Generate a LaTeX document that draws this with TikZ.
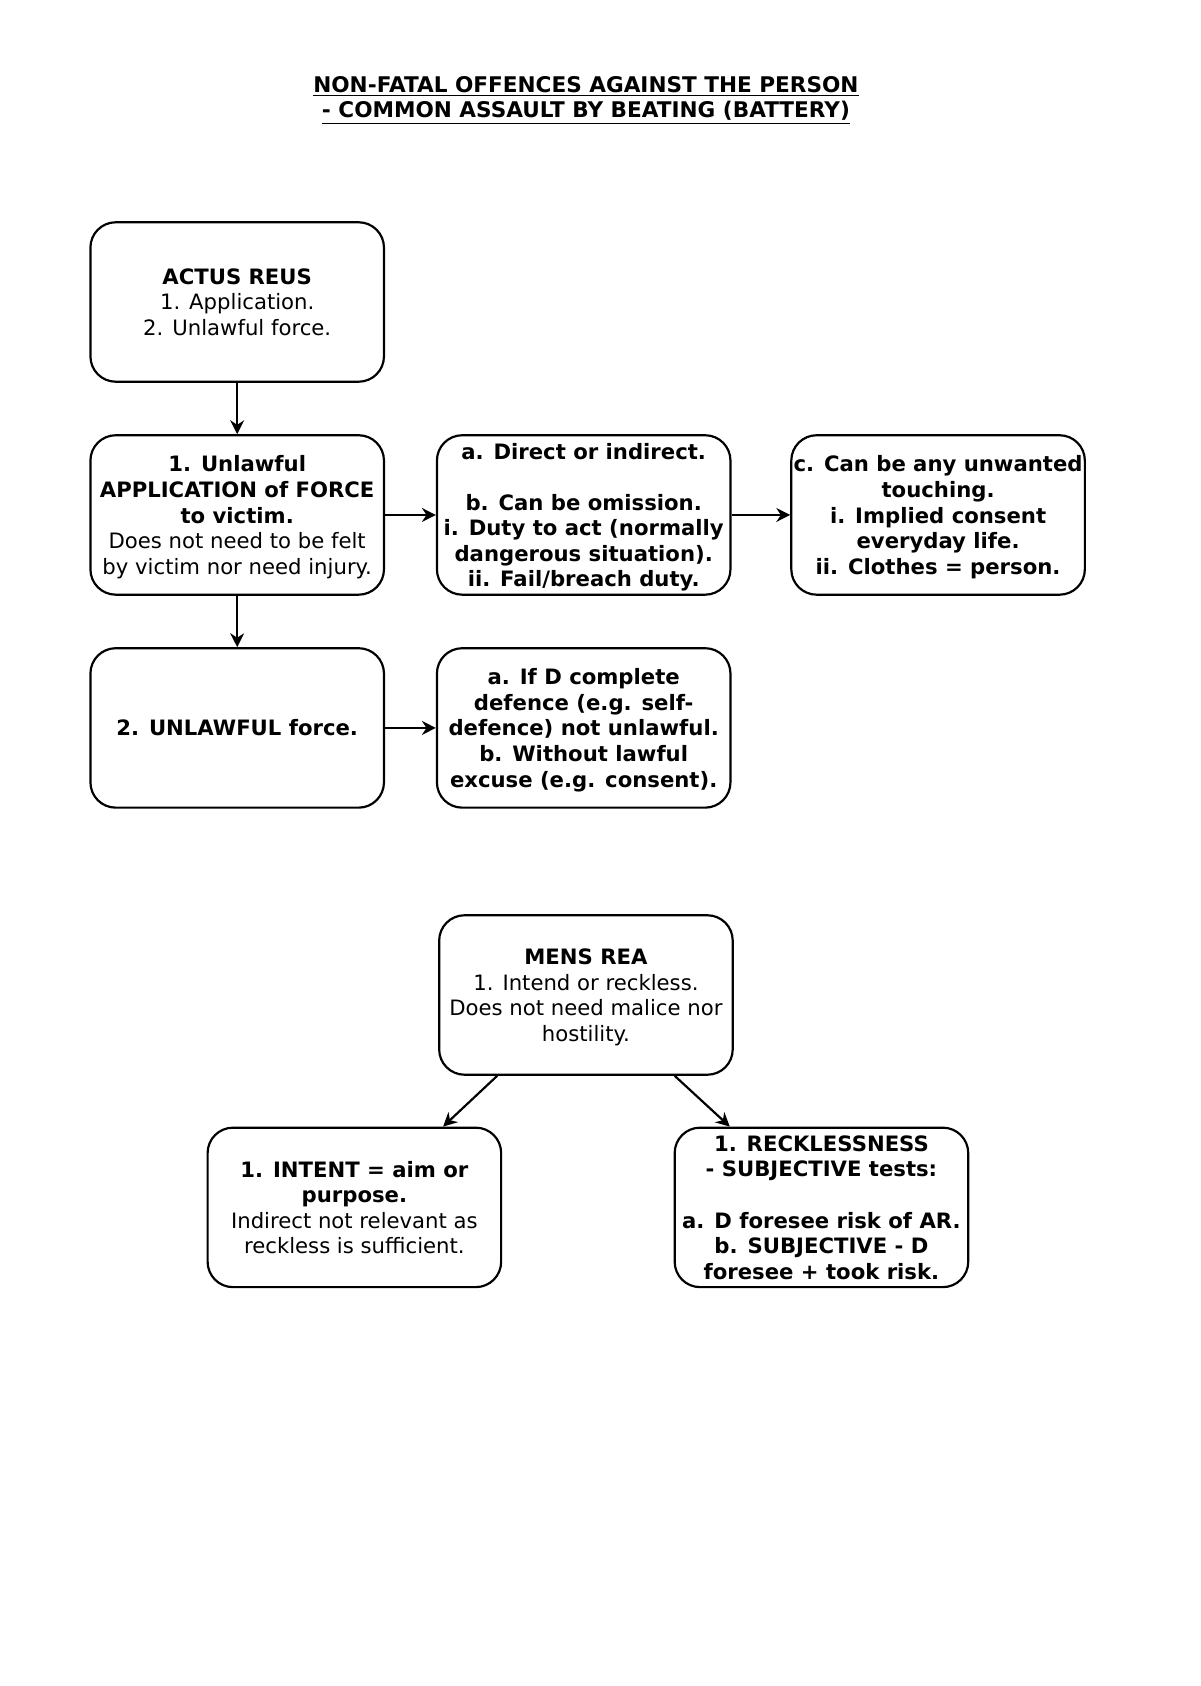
\documentclass[tikz,border=0pt]{standalone}
\usepackage{fontspec}
\setmainfont{DejaVu Sans}
\usetikzlibrary{calc,arrows.meta}
\begin{document}
\begin{tikzpicture}[
    box/.style={draw,line width=1.1pt,rounded corners=0.45cm,minimum width=5.21cm,minimum height=2.83cm,align=center,inner sep=1pt,text depth=0pt,font=\fontsize{10.7}{12.9}\selectfont},
    link/.style={->,>={Stealth[length=7pt,width=7pt]},line width=1.1pt}]
    \useasboundingbox (0,0) rectangle (21.30,-29.925);
    \node[align=center,font=\fontsize{10.9}{12.7}\selectfont\bfseries] (title) at (10.40,-1.78)
      {\underline{NON-FATAL OFFENCES AGAINST THE PERSON}\\ \underline{- COMMON ASSAULT BY BEATING (BATTERY)}};
    \node[box] (ar) at (4.21,-5.36) {\textbf{ACTUS REUS}\\ 1. Application.\\ 2. Unlawful force.};
    \node[box] (app) at (4.21,-9.14) {\textbf{1. Unlawful}\\ \textbf{APPLICATION of FORCE}\\ \textbf{to victim.}\\ Does not need to be felt\\ by victim nor need injury.};
    \node[box,font=\fontsize{10.7}{12.9}\selectfont\bfseries] (direct) at (10.36,-9.14) {a. Direct or indirect.\\ ~\\ b. Can be omission.\\ i. Duty to act (normally\\ dangerous situation).\\ ii. Fail/breach duty.};
    \node[box,font=\fontsize{10.7}{12.9}\selectfont\bfseries] (touch) at (16.65,-9.14) {c. Can be any unwanted\\ touching.\\ i. Implied consent\\ everyday life.\\ ii. Clothes = person.};
    \node[box] (force) at (4.21,-12.92) {\textbf{2. UNLAWFUL force.}};
    \node[box,font=\fontsize{10.7}{12.9}\selectfont\bfseries] (defence) at (10.36,-12.92) {a. If D complete\\ defence (e.g. self-\\ defence) not unlawful.\\ b. Without lawful\\ excuse (e.g. consent).};
    \node[box] (mr) at (10.40,-17.66) {\textbf{MENS REA}\\ 1. Intend or reckless.\\ Does not need malice nor\\ hostility.};
    \node[box] (intent) at (6.29,-21.43) {\textbf{1. INTENT = aim or}\\ \textbf{purpose.}\\ Indirect not relevant as\\ reckless is sufficient.};
    \node[box,font=\fontsize{10.7}{12.9}\selectfont\bfseries] (reck) at (14.58,-21.43) {1. RECKLESSNESS\\ - SUBJECTIVE tests:\\ ~\\ a. D foresee risk of AR.\\ b. SUBJECTIVE - D\\ foresee + took risk.};
    \draw[link] (ar) -- (app);
    \draw[link] (app) -- (direct);
    \draw[link] (direct) -- (touch);
    \draw[link] (app) -- (force);
    \draw[link] (force) -- (defence);
    \draw[link] ($(mr.south west)!0.2!(mr.south east)$) -- ($(intent.north west)!0.8!(intent.north east)$);
    \draw[link] ($(mr.south west)!0.8!(mr.south east)$) -- ($(reck.north west)!0.19!(reck.north east)$);
  \end{tikzpicture}
\end{document}
